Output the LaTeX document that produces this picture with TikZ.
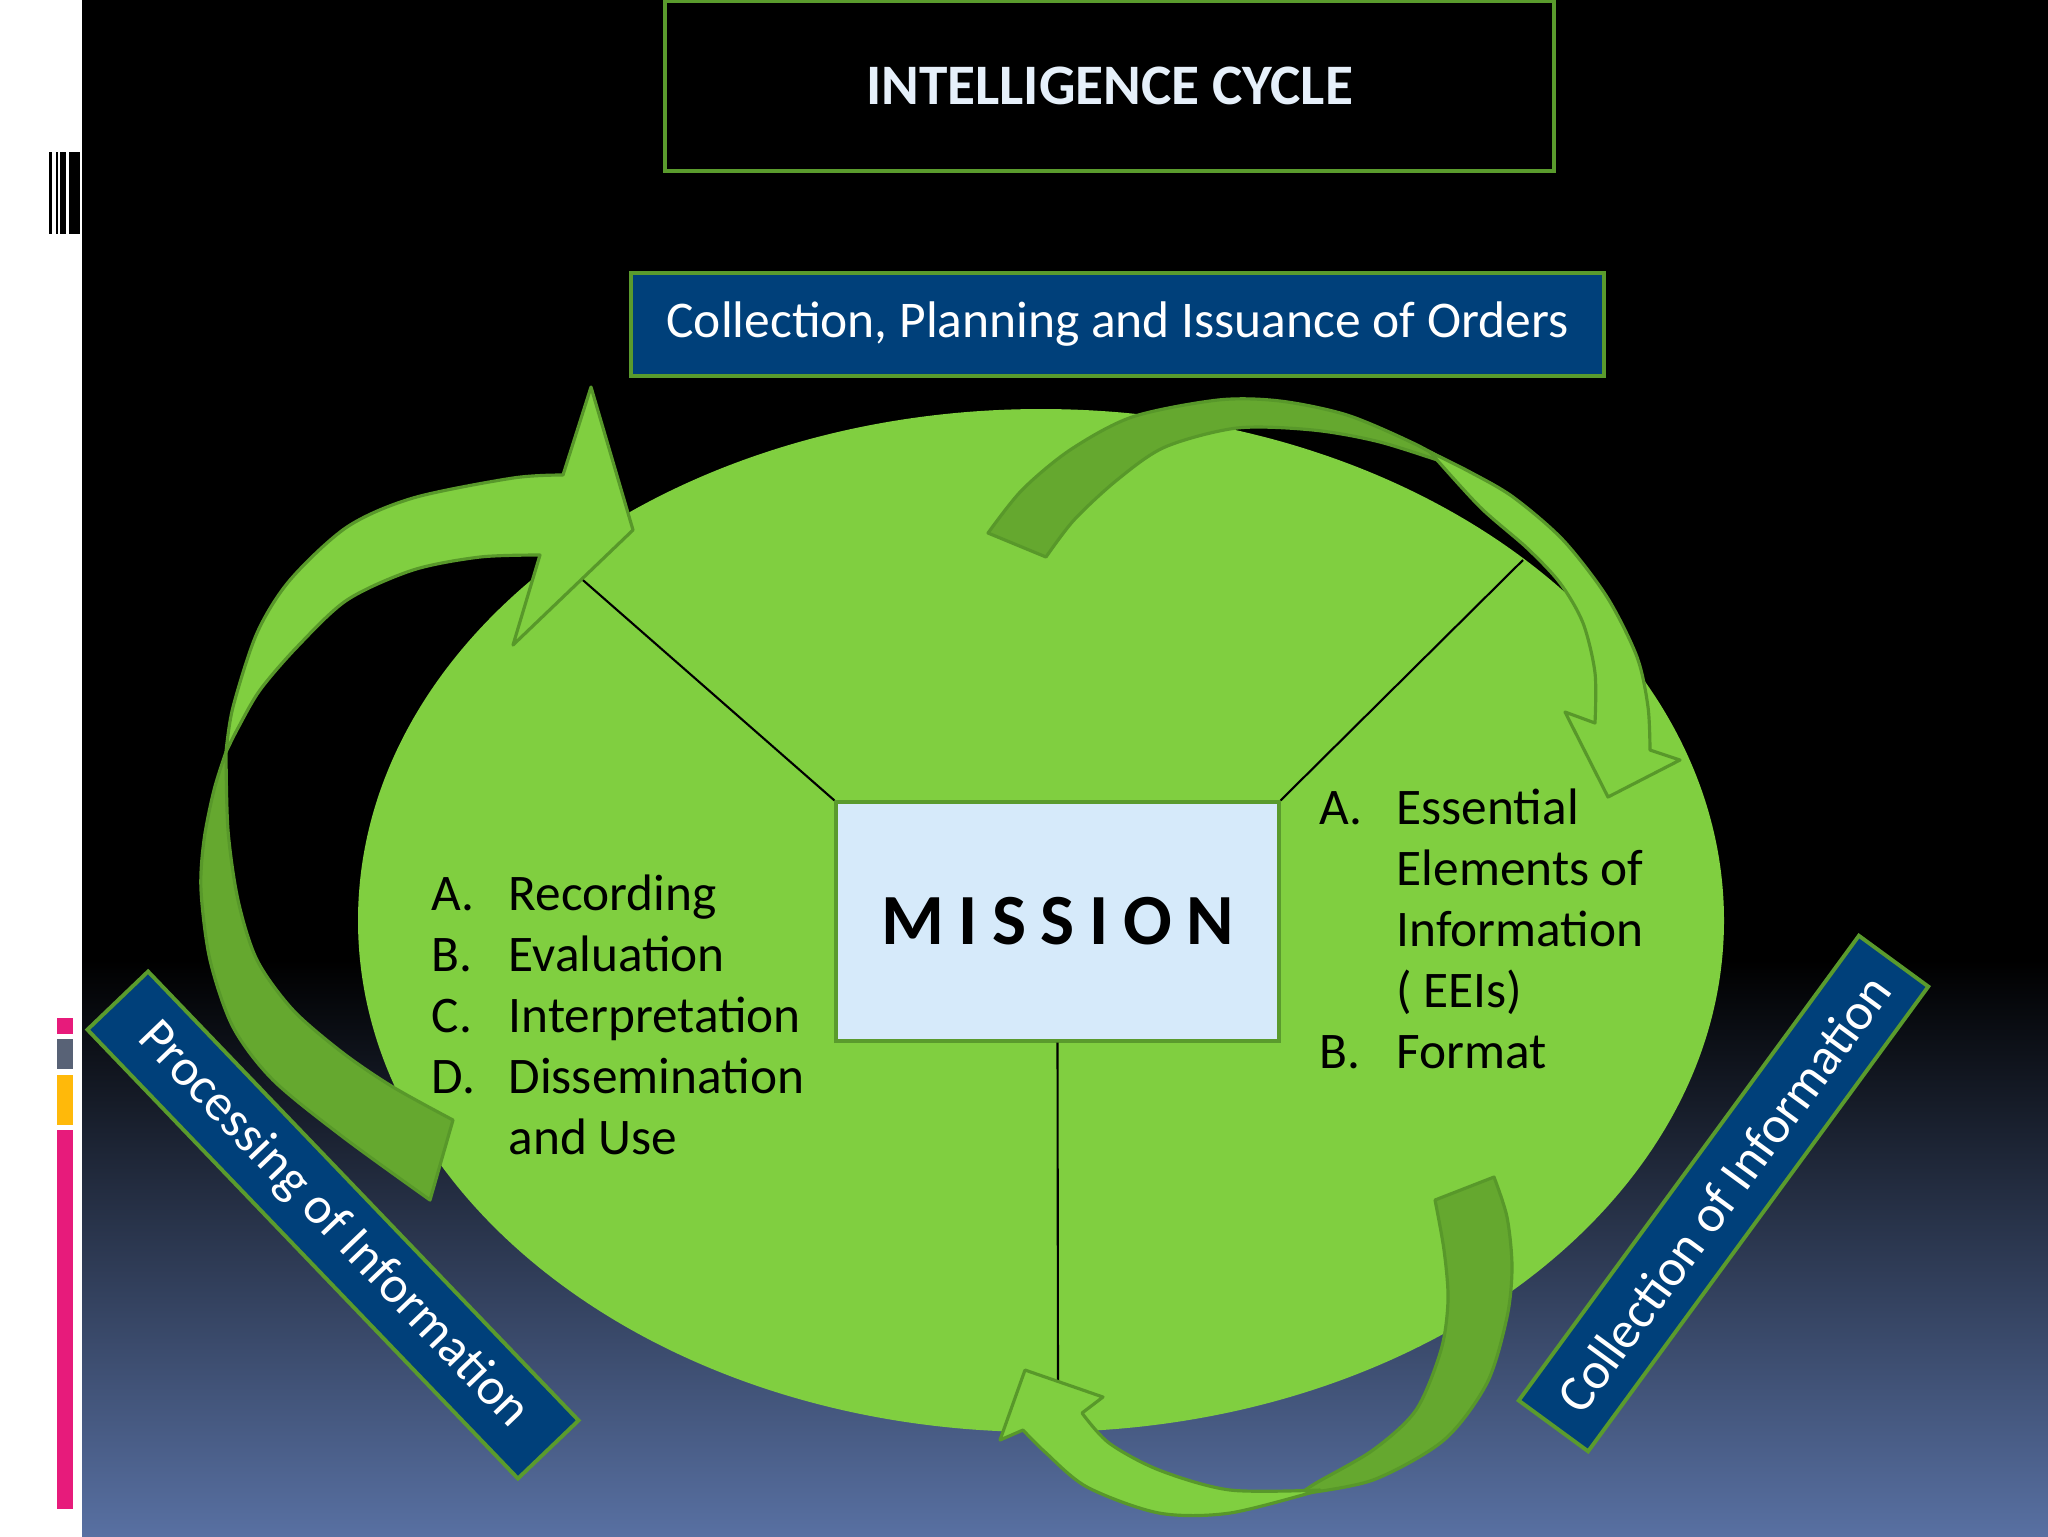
\documentclass[tikz,border=0pt]{standalone}
\usepackage{fontspec}
\setmainfont{Carlito}
\usepackage{tikz}
\usetikzlibrary{shapes.geometric}
\definecolor{leafgreen}{RGB}{128,207,64}
\definecolor{darkleaf}{RGB}{101,168,47}
\definecolor{edgegreen}{RGB}{88,152,42}
\definecolor{boxgreen}{RGB}{90,155,45}
\definecolor{boxblue}{RGB}{0,64,122}
\definecolor{missionblue}{RGB}{214,234,250}
\definecolor{titletext}{RGB}{230,240,250}
\definecolor{bgblue}{RGB}{88,112,162}
\definecolor{barpink}{RGB}{231,27,123}
\definecolor{bargrey}{RGB}{88,98,118}
\definecolor{barorange}{RGB}{255,185,10}

\begin{document}
\begin{tikzpicture}[x=0.1mm, y=-0.1mm,
    every node/.style={inner sep=0pt},
    bluebox/.style={draw=boxgreen, line width=1.1pt, fill=boxblue, text=white, font=\fontsize{14.8}{18}\selectfont},
    listtext/.style={anchor=base west, font=\fontsize{14.6}{17.4}\selectfont},
    frontarrow/.style={fill=leafgreen, draw=edgegreen, line width=0.9pt, line join=round},
    backarrow/.style={fill=darkleaf, draw=edgegreen, line width=0.9pt, line join=round},
    spoke/.style={draw=black, line width=0.6pt}]
    \useasboundingbox (0,0) rectangle (2048,1536);
    \fill[white] (0,0) rectangle (82,1536);
    \fill[black] (82,0) rectangle (2048,1536);
    \shade[top color=black, bottom color=bgblue] (82,960) rectangle (2048,1536);
    \foreach \a/\b in {49.3/51.7, 55.7/58.3, 60/66.3, 69.3/80}
        \fill[black] (\a,152) rectangle (\b,234);
    \fill[barpink] (57,1018) rectangle (73,1034);
    \fill[bargrey] (57,1039) rectangle (73,1069);
    \fill[barorange] (57,1075) rectangle (73,1125);
    \fill[barpink] (57,1130) rectangle (73,1509);

    \node[draw=boxgreen, line width=1.1pt, minimum width=88.9mm, minimum height=17mm, text=titletext, font=\fontsize{16.3}{19.5}\selectfont\bfseries] (title) at (1109.5,86) {INTELLIGENCE CYCLE};
    \node[bluebox, minimum width=97.3mm, minimum height=10.3mm, font=\fontsize{14.65}{18}\selectfont] (orders) at (1117.5,324.5) {Collection, Planning and Issuance of Orders};

    \node[ellipse, fill=leafgreen, minimum width=136.6mm, minimum height=102.3mm] (field) at (1041,920.5) {};
    \node[draw=boxgreen, line width=0.9pt, fill=missionblue, minimum width=44.3mm, minimum height=23.9mm, font=\fontsize{20.5}{24}\selectfont\bfseries\addfontfeatures{LetterSpace=20}] (mission) at (1057.5,921.5) {MISSION};
    \coordinate (spokeL) at (568,567);
    \coordinate (spokeR) at (1523,560);
    \coordinate (spokeB) at (1058,1395);
    \draw[spoke] (mission.north west) -- (spokeL);
    \draw[spoke] (mission.north east) -- (spokeR);
    \draw[spoke] (mission.south) -- (spokeB);

    \node[listtext] (processlist) at (431,910) {\begin{tabular}[t]{@{}p{7.7mm}@{}l@{}}A. & Recording\\ B. & Evaluation\\ C. & Interpretation\\ D. & Dissemination\\ & and Use\end{tabular}};
    \node[listtext] (collectlist) at (1319,824) {\begin{tabular}[t]{@{}p{7.7mm}@{}l@{}}A. & Essential\\ & Elements of\\ & Information\\ & ( EEIs)\\ B. & Format\end{tabular}};

    \filldraw[backarrow] plot[smooth] coordinates {(226,752) (214,790) (204,840) (201,890) (210,960) (233,1027) (273,1080) (343,1137) (430,1200)} -- (453,1120) -- plot[smooth] coordinates {(453,1120) (393,1087) (343,1053) (293,1010) (257,960) (238,900) (228,830) (226,752)} -- cycle;
    \filldraw[frontarrow] plot[smooth] coordinates {(226,752) (233,707) (257,633) (290,580) (347,527) (413,498) (513,478) (563,475)} -- (591,387) -- (633,530) -- (513,645) -- (540,555) -- plot[smooth] coordinates {(540,555) (480,557) (413,570) (347,600) (297,647) (260,690) (238,728) (226,752)} -- cycle;

    \filldraw[backarrow] plot[smooth] coordinates {(988,533) (1022,490) (1070,450) (1132,417) (1218,400) (1280,401) (1347,415) (1413,443) (1455,466)} -- plot[smooth] coordinates {(1455,466) (1380,442) (1313,430) (1237,428) (1165,447) (1117,480) (1074,520) (1046,557)} -- cycle;
    \filldraw[frontarrow] plot[smooth] coordinates {(1430,452) (1470,472) (1513,497) (1563,540) (1607,597) (1637,657) (1648,707) (1650,750)} -- (1680,760) -- (1608,797) -- (1565,712) -- (1595,723) -- plot[smooth] coordinates {(1595,723) (1595,673) (1583,623) (1560,583) (1527,548) (1480,507) (1430,452)} -- cycle;

    \filldraw[backarrow] plot[smooth] coordinates {(1494,1177) (1507,1217) (1512,1267) (1507,1317) (1487,1383) (1444,1440) (1373,1480) (1300,1494)} -- plot[smooth] coordinates {(1300,1494) (1316,1483) (1373,1450) (1416,1410) (1441,1350) (1448,1300) (1444,1250) (1435,1200)} -- cycle;
    \filldraw[frontarrow] plot[smooth] coordinates {(1320,1490) (1230,1513) (1159,1513) (1087,1487) (1045,1452) (1023,1430)} -- (1000,1440) -- (1025,1370) -- (1103,1397) -- (1082,1413) -- plot[smooth] coordinates {(1082,1413) (1109,1443) (1159,1470) (1230,1490) (1320,1490)} -- cycle;

    \node[bluebox, rotate=-46.2, minimum width=62.2mm, minimum height=8.4mm] (processing) at (333,1225) {Processing of Information};
    \node[bluebox, rotate=53.8, minimum width=57.6mm, minimum height=8.6mm] (collection) at (1723.5,1193.5) {Collection of Information};
\end{tikzpicture}
\end{document}
